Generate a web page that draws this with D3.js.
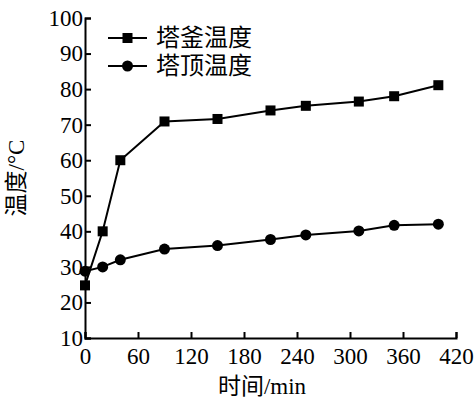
<!DOCTYPE html>
<html><head><meta charset="utf-8">
<script src="https://cdn.jsdelivr.net/npm/d3@7"></script>
<style>body{margin:0;background:#fff}text{font-family:"Liberation Serif","Noto Sans CJK SC",serif;fill:#000}</style>
</head><body>
<svg id="c" width="474" height="402"></svg>
<script>
const times = [0, 20, 40, 90, 150, 210, 250, 310, 350, 400]
const bottomTemp = [24.8, 40, 60, 70.9, 71.6, 74, 75.3, 76.5, 78, 81.1]
const topTemp = [28.8, 30, 32, 35, 36, 37.7, 39, 40.1, 41.7, 42]
const xTicks = [0, 60, 120, 180, 240, 300, 360, 420]
const yTicks = [10, 20, 30, 40, 50, 60, 70, 80, 90, 100]

const svg = d3.select('#c')
const x = d3.scaleLinear().domain([0, 420]).range([85, 456])
const y = d3.scaleLinear().domain([10, 100]).range([338, 18])

// axes, ticks point inward
svg.append('g').attr('transform', 'translate(0,338)')
    .call(d3.axisBottom(x).tickValues(xTicks).tickSize(-6).tickPadding(10))
    .call(g => g.selectAll('text').attr('font-size', 23))
svg.append('g').attr('transform', 'translate(85,0)')
    .call(d3.axisLeft(y).tickValues(yTicks).tickSize(-6).tickPadding(2))
    .call(g => g.selectAll('text').attr('font-size', 23))
svg.selectAll('.domain,.tick line').attr('stroke', '#000').attr('stroke-width', 2)

const line = d3.line().x(d => x(d[0])).y(d => y(d[1]))
const series = [
  { name: '塔釜温度', vals: bottomTemp, shape: 'square' },
  { name: '塔顶温度', vals: topTemp, shape: 'circle' },
]
series.forEach((s, i) => {
  const pts = times.map((t, j) => [t, s.vals[j]])
  svg.append('path').attr('d', line(pts)).attr('fill', 'none').attr('stroke', '#000').attr('stroke-width', 2)
  const mark = (g, cx, cy) => s.shape === 'square'
    ? g.append('rect').attr('x', cx - 5).attr('y', cy - 5).attr('width', 10).attr('height', 10)
    : g.append('circle').attr('cx', cx).attr('cy', cy).attr('r', 5.5)
  pts.forEach(p => mark(svg, x(p[0]), y(p[1])))
  // legend
  const ly = 38 + i * 28
  svg.append('line').attr('x1', 108).attr('x2', 147).attr('y1', ly).attr('y2', ly).attr('stroke', '#000').attr('stroke-width', 2)
  mark(svg, 127.5, ly)
  svg.append('text').attr('x', 156).attr('y', ly + 8).attr('font-size', 24).text(s.name)
})

svg.append('text').attr('x', 262).attr('y', 394).attr('text-anchor', 'middle').attr('font-size', 23).text('时间/min')
svg.append('text').attr('transform', 'translate(24,178) rotate(-90)').attr('text-anchor', 'middle').attr('font-size', 23).text('温度/°C')
</script>
</body></html>
